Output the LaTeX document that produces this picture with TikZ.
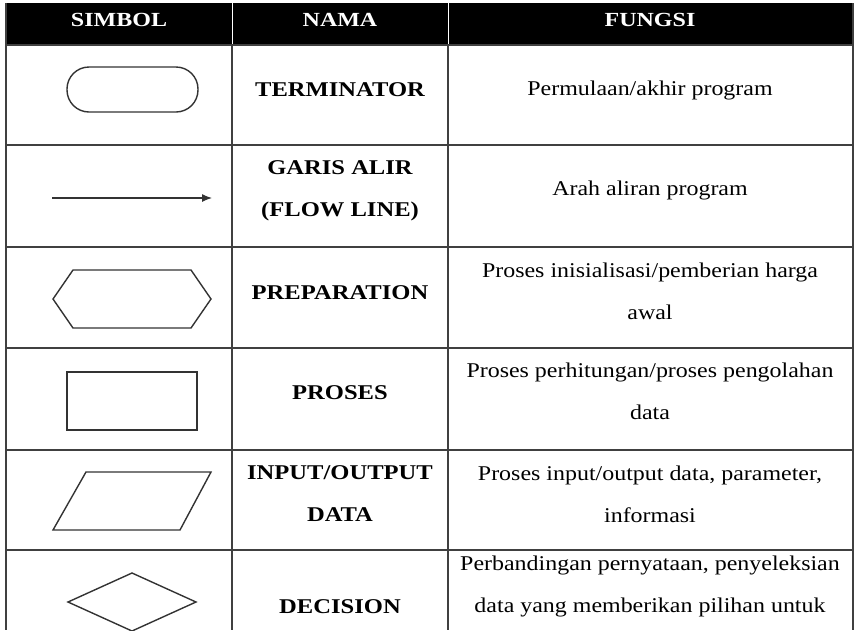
\documentclass[tikz,border=0pt]{standalone}
\usepackage{fontspec}
\setmainfont{Liberation Serif}
\usetikzlibrary{arrows.meta}
\begin{document}
\begin{tikzpicture}[x=1pt,y=-1pt,
 grid/.style={draw=black!75,line width=1.6pt},
 sym/.style={draw=black!80,line width=1.4pt},
 hd/.style={text=white,font=\bfseries\fontsize{20}{20}\selectfont,xscale=1.2,transform shape},
 nm/.style={font=\bfseries\fontsize{21}{42}\selectfont,align=center,xscale=1.17,transform shape},
 fn/.style={font=\fontsize{21}{42}\selectfont,align=center,xscale=1.14,transform shape}]
\useasboundingbox (0,0) rectangle (859,630);
\fill[black] (6,3) rectangle (853,45);
\foreach \x in {232,448}{\draw[white,line width=1pt] (\x,3)--(\x,45);}
\draw[grid] (6,3)--(6,630) (232,45)--(232,630) (448,45)--(448,630) (853,3)--(853,630);
\foreach \y in {145,247,348,450,550}{\draw[grid] (6,\y)--(853,\y);}
\draw[grid] (6,45)--(853,45);
\node[hd] (h1) at (119,20) {SIMBOL};
\node[hd] (h2) at (340,20) {NAMA};
\node[hd] (h3) at (650,20) {FUNGSI};
% symbols
\draw[sym,rounded corners=22pt] (67,67) rectangle (198,112);
\coordinate (a1) at (52,198); \coordinate (a2) at (212,198);
\draw[sym,line width=1.2pt,-{Latex[length=10pt,width=8pt]}] (a1)--(a2);
\draw[sym] (73,270)--(191,270)--(211,299)--(191,328)--(73,328)--(53,299)--cycle;
\draw[sym] (67,372) rectangle (197,430);
\draw[sym] (86,472)--(211,472)--(180,530)--(53,530)--cycle;
\draw[sym] (132,573)--(196,602)--(132,631)--(68,602)--cycle;
% names
\node[nm] (n1) at (340,90) {TERMINATOR};
\node[nm] (n2) at (340,191) {GARIS ALIR\\(FLOW LINE)};
\node[nm] (n3) at (340,293) {PREPARATION};
\node[nm] (n4) at (340,393) {PROSES};
\node[nm] (n5) at (340,494) {INPUT/OUTPUT\\DATA};
\node[nm] (n6) at (340,607) {DECISION};
% functions
\node[fn] (f1) at (650,90) {Permulaan/akhir program};
\node[fn] (f2) at (650,190) {Arah aliran program};
\node[fn] (f3) at (650,291) {Proses inisialisasi/pemberian harga\\awal};
\node[fn] (f4) at (650,391) {Proses perhitungan/proses pengolahan\\data};
\node[fn] (f5) at (650,494) {Proses input/output data, parameter,\\informasi};
\node[fn] (f6) at (650,586) {Perbandingan pernyataan, penyeleksian\\data yang memberikan pilihan untuk};
\end{tikzpicture}
\end{document}
